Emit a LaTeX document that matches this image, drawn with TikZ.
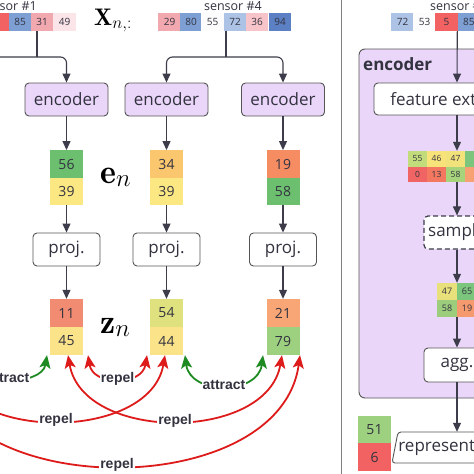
\documentclass[tikz,border=0pt]{standalone}
\usepackage{fontspec}
\newfontfamily\osans{Open Sans}
\newfontfamily\lsans{Liberation Sans}
\usetikzlibrary{arrows.meta,calc}
\definecolor{encfill}{HTML}{EAD6F9}
\definecolor{boxline}{HTML}{555555}
\definecolor{arr}{HTML}{3C3C4A}
\definecolor{txt}{HTML}{333340}
\definecolor{repred}{HTML}{DD1B1B}
\definecolor{attgreen}{HTML}{1E8A22}
\definecolor{divider}{HTML}{808080}
\definecolor{cRed}{HTML}{F26262}
\definecolor{cBlue}{HTML}{7D9FD3}
\definecolor{cPink}{HTML}{F2A8AF}
\definecolor{cPale}{HTML}{FBE5E8}
\definecolor{cWhite}{HTML}{FCFCFC}
\definecolor{cLBlue}{HTML}{ADC3E6}
\definecolor{cLPink}{HTML}{F7C4C9}
\definecolor{cDBlue}{HTML}{5C80C4}
\definecolor{cGreen}{HTML}{6CBF6E}
\definecolor{cYellow}{HTML}{FCE883}
\definecolor{cGold}{HTML}{FBC76E}
\definecolor{cSalmon}{HTML}{F58C62}
\definecolor{cZsal}{HTML}{F18C72}
\definecolor{cZyel}{HTML}{FBE38A}
\definecolor{cZlime}{HTML}{DFE17F}
\definecolor{cZorg}{HTML}{F8A676}
\definecolor{cZlgr}{HTML}{9DD07F}
\definecolor{cM55}{HTML}{C2DC7B}
\definecolor{cM46}{HTML}{F8E37B}
\definecolor{cM47}{HTML}{F2E27B}
\definecolor{cMgr}{HTML}{7BC57D}
\definecolor{cM0}{HTML}{F06464}
\definecolor{cM13}{HTML}{F3785F}
\definecolor{cM58}{HTML}{A7D47B}
\definecolor{cMor}{HTML}{F7A072}
\definecolor{cN47}{HTML}{E8E07A}
\definecolor{cN58}{HTML}{9CCD7C}
\definecolor{cN19}{HTML}{F59A6E}
\begin{document}
\begin{tikzpicture}[x=1pt,y=-1pt,
  box/.style={draw=boxline, line width=0.9pt, rounded corners=4pt, minimum width=83pt, minimum height=33pt, inner sep=0pt, font=\osans\fontsize{17}{19}\selectfont, text=txt},
  encbox/.style={box, fill=encfill},
  projbox/.style={box, fill=white, minimum width=67pt},
  cell/.style={minimum width=33pt, minimum height=27.5pt, inner sep=0pt, font=\osans\fontsize{14}{16}\selectfont, text=txt},
  scell/.style={minimum width=22.5pt, minimum height=18pt, inner sep=0pt, font=\osans\fontsize{10}{12}\selectfont, text=txt},
  mcell/.style={minimum width=19pt, minimum height=15.5pt, inner sep=0pt, font=\osans\fontsize{8.5}{10}\selectfont, text=txt},
  ncell/.style={minimum width=20pt, minimum height=17pt, inner sep=0pt, font=\osans\fontsize{9}{10}\selectfont, text=txt},
  sensorlab/.style={inner sep=0pt, font=\osans\fontsize{12.5}{14}\selectfont, text=txt},
  flow/.style={draw=arr, line width=1.1pt, -{Triangle[length=9pt,width=8pt]}},
  plain/.style={draw=arr, line width=1.1pt},
  rep/.style={draw=repred, line width=1.8pt, {Stealth[length=13pt,width=11pt,inset=3pt]}-{Stealth[length=13pt,width=11pt,inset=3pt]}},
  att/.style={draw=attgreen, line width=1.8pt, {Stealth[length=13pt,width=11pt,inset=3pt]}-{Stealth[length=13pt,width=11pt,inset=3pt]}},
  lab/.style={fill=white, inner sep=1pt, font=\lsans\bfseries\fontsize{14}{16}\selectfont, text=txt},
  mathlab/.style={inner sep=0pt, text=black}
]
\useasboundingbox (0,0) rectangle (474,474);
\clip (0,0) rectangle (474,474);
\fill[white] (0,0) rectangle (474,474);

% ---------- left panel: sensor rows ----------
\node[sensorlab, anchor=base east] (s1lab) at (37,10.5) {sensor \#1};
\node[scell, fill=cRed]  (s1a) at (-2,22) {};
\node[scell, fill=cBlue] (s1b) at (20,22) {85};
\node[scell, fill=cPink] (s1c) at (42,22) {31};
\node[scell, fill=cPale] (s1d) at (64.5,22) {49};

\node[sensorlab, anchor=base east] (s4lab) at (262,10.5) {sensor \#4};
\node[scell, fill=cPink]  (s4a) at (169.5,22) {29};
\node[scell, fill=cBlue]  (s4b) at (191,22) {80};
\node[scell, fill=cWhite] (s4c) at (212.5,22) {55};
\node[scell, fill=cLBlue] (s4d) at (235,22) {72};
\node[scell, fill=cLPink] (s4e) at (257,22) {36};
\node[scell, fill=cDBlue] (s4f) at (280,22) {94};

\node[mathlab, anchor=base west, font=\fontsize{24}{26}\selectfont] (xlab) at (94,25) {$\mathbf{X}_{n,:}$};

% ---------- encoders ----------
\node[encbox] (enc1) at (66.5,99.5) {encoder};
\node[encbox] (enc2) at (166.5,99.5) {encoder};
\node[encbox] (enc3) at (283,99.5) {encoder};
\coordinate (enc0t) at (-33.5,83);

\coordinate (s1o) at (37,31);
\coordinate (s1j) at (37,57);
\coordinate (s4o) at (226,31);
\coordinate (s4j) at (226,57);
\draw[plain] (s1o) -- (s1j);
\draw[flow, rounded corners=6pt] (s1j) -| (enc1.north);
\draw[plain, rounded corners=6pt] (s1j) -| (enc0t);
\draw[plain] (s4o) -- (s4j);
\draw[flow, rounded corners=6pt] (s4j) -| (enc2.north);
\draw[flow, rounded corners=6pt] (s4j) -| (enc3.north);

% ---------- e_n ----------
\node[cell, fill=cGreen]  (e1a) at (66.5,164) {56};
\node[cell, fill=cYellow] (e1b) at (66.5,191.5) {39};
\node[cell, fill=cGold]   (e2a) at (166.5,164) {34};
\node[cell, fill=cYellow] (e2b) at (166.5,191.5) {39};
\node[cell, fill=cSalmon] (e3a) at (283,164) {19};
\node[cell, fill=cGreen]  (e3b) at (283,191.5) {58};
\node[mathlab, anchor=base west, font=\fontsize{34}{36}\selectfont] (elab) at (100,183) {$\mathbf{e}_n$};

\draw[flow] (enc1) -- (e1a);
\draw[flow] (enc2) -- (e2a);
\draw[flow] (enc3) -- (e3a);

% ---------- proj ----------
\node[projbox] (p1) at (66.5,249.5) {proj.};
\node[projbox] (p2) at (166.5,249.5) {proj.};
\node[projbox] (p3) at (283,249.5) {proj.};
\draw[flow] (e1b) -- (p1);
\draw[flow] (e2b) -- (p2);
\draw[flow] (e3b) -- (p3);

% ---------- z_n ----------
\node[cell, fill=cZsal, minimum height=28pt]  (z1a) at (66.5,313) {11};
\node[cell, fill=cZyel, minimum height=28pt]  (z1b) at (66.5,341) {45};
\node[cell, fill=cZlime, minimum height=28pt] (z2a) at (166.5,313) {54};
\node[cell, fill=cZyel, minimum height=28pt]  (z2b) at (166.5,341) {44};
\node[cell, fill=cZorg, minimum height=28pt]  (z3a) at (283,313) {21};
\node[cell, fill=cZlgr, minimum height=28pt]  (z3b) at (283,341) {79};
\node[mathlab, anchor=base west, font=\fontsize{34}{36}\selectfont] (zlab) at (100,333) {$\mathbf{z}_n$};
\draw[flow] (p1) -- (z1a);
\draw[flow] (p2) -- (z2a);
\draw[flow] (p3) -- (z3a);

% ---------- attract / repel ----------
\coordinate (c0M) at (-53,355);
\coordinate (c0F) at (-66,355);
\coordinate (c0R) at (-31,355);
\coordinate (z1L) at ($(z1b.south)+(-19.5,0)$);
\coordinate (z1M) at ($(z1b.south)+(1.5,0)$);
\coordinate (z1R) at ($(z1b.south)+(21.5,0)$);
\coordinate (z2L) at ($(z2b.south)+(-19.5,0)$);
\coordinate (z2M) at ($(z2b.south)+(-1.5,0)$);
\coordinate (z2R) at ($(z2b.south)+(18.5,0)$);
\coordinate (z3L) at ($(z3b.south)+(-20,0)$);
\coordinate (z3M) at ($(z3b.south)+(-1,0)$);
\coordinate (z3R) at ($(z3b.south)+(17,0)$);

\draw[rep] (c0F) .. controls ($(c0F)+(20,147)$) and ($(z3R)+(-20,147)$) .. node[lab, midway] {repel} (z3R);
\draw[rep] (z1M) .. controls ($(z1M)+(15,87)$) and ($(z3M)+(-15,87)$) .. node[lab, midway] {repel} (z3M);
\draw[rep] (c0M) .. controls ($(c0M)+(15,87)$) and ($(z2M)+(-15,87)$) .. node[lab, midway] {repel} (z2M);
\draw[rep] (z1R) .. controls ($(z1R)+(5,31)$) and ($(z2L)+(-5,31)$) .. node[lab, midway] {repel} (z2L);
\draw[att] (c0R) .. controls ($(c0R)+(5,31)$) and ($(z1L)+(-5,31)$) .. node[lab, midway] {attract} (z1L);
\draw[att] (z2R) .. controls ($(z2R)+(5,40)$) and ($(z3L)+(-5,40)$) .. node[lab, midway] {attract} (z3L);

% ---------- divider ----------
\coordinate (dtop) at (341.5,0);
\coordinate (dbot) at (341.5,474);
\draw[divider, line width=1.2pt] (dtop) -- (dbot);

% ---------- right panel ----------
\node[sensorlab, anchor=base west] (rlab) at (430,10.5) {sensor \#};
\node[scell, fill=cLBlue] (r72) at (402.5,22) {72};
\node[scell, fill=cWhite] (r53) at (424.5,22) {53};
\node[scell, fill=cRed]   (r5)  at (446.5,22) {5};
\node[scell, fill=cBlue]  (r85) at (468.75,22) {85};

\node[draw=boxline, line width=0.9pt, fill=encfill, rounded corners=6pt, minimum width=196pt, minimum height=349pt, inner sep=0pt] (bigenc) at (457,223.5) {};
\node[anchor=base west, inner sep=0pt, font=\osans\bfseries\fontsize{17}{19}\selectfont, text=txt] (enclab) at (363,70) {encoder};

\coordinate (ax) at (457,0);
\node[box, fill=white, minimum width=166pt, minimum height=32pt] (feat) at (457,99) {feature extractor};

% matrix 1
\node[mcell, fill=cM55] (m11) at (417.5,158.75) {55};
\node[mcell, fill=cM46] (m12) at (436.5,158.75) {46};
\node[mcell, fill=cM47] (m13) at (455.5,158.75) {47};
\node[mcell, fill=cMgr] (m14) at (474.5,158.75) {};
\node[mcell, fill=cM0]  (m21) at (417.5,174.25) {0};
\node[mcell, fill=cM13] (m22) at (436.5,174.25) {13};
\node[mcell, fill=cM58] (m23) at (455.5,174.25) {58};
\node[mcell, fill=cMor] (m24) at (474.5,174.25) {};

\node[box, fill=white, dashed, dash pattern=on 5pt off 3pt, line width=1.2pt, draw=arr, minimum width=66pt, minimum height=33pt] (samp) at (457,232.5) {sample};

% matrix 2
\node[ncell, fill=cN47]  (n11) at (447,291.5) {47};
\node[ncell, fill=cMgr]  (n12) at (467,291.5) {65};
\node[ncell, fill=cN58]  (n21) at (447,308.5) {58};
\node[ncell, fill=cN19]  (n22) at (467,308.5) {19};

\node[box, fill=white, minimum width=66pt, minimum height=34pt] (agg) at (457,365) {agg.};

% representation
\draw[draw=boxline, line width=0.9pt, fill=white, rounded corners=3pt] (398,432) -- (522,432) -- (516,463) -- (392,463) -- cycle;
\node[inner sep=0pt, minimum height=31pt, font=\osans\fontsize{17}{19}\selectfont, text=txt] (repr) at (457,447.5) {representation};

\node[cell, fill=cZlgr] (o51) at (374.5,429.5) {51};
\node[cell, fill=cRed]  (o6)  at (374.5,457) {6};

\draw[flow] (r85.south west) -- (feat.north -| ax);
\draw[flow] (feat.south -| ax) -- (m13.north -| ax);
\draw[flow] (m23.south -| ax) -- (samp.north -| ax);
\draw[flow] (samp.south -| ax) -- (n11.north -| ax);
\draw[flow] (n21.south -| ax) -- (agg.north -| ax);
\draw[flow] (agg.south -| ax) -- (repr.north -| ax);
\end{tikzpicture}
\end{document}
